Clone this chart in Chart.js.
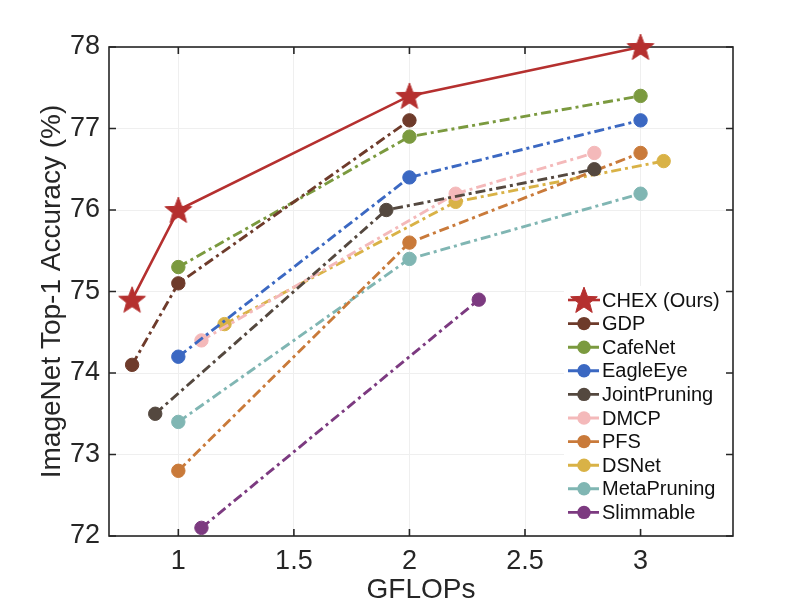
<!DOCTYPE html>
<html><head><meta charset="utf-8">
<script src="https://cdn.jsdelivr.net/npm/chart.js@4"></script>
<style>html,body{margin:0;padding:0;background:#fff}</style>
</head><body>
<canvas id="c" width="811" height="610"></canvas>
<script>
// ---- data ----
const seriesNames = ['CHEX (Ours)','GDP','CafeNet','EagleEye','JointPruning','DMCP','PFS','DSNet','MetaPruning','Slimmable'];
const chexX = [0.8, 1, 2, 3];           const chexY = [74.9, 76.0, 77.4, 78.0];
const gdpX = [0.8, 1, 2];               const gdpY = [74.1, 75.1, 77.1];
const cafeX = [1, 2, 3];                const cafeY = [75.3, 76.9, 77.4];
const eagleX = [1, 2, 3];               const eagleY = [74.2, 76.4, 77.1];
const jointX = [0.9, 1.9, 2.8];         const jointY = [73.5, 76.0, 76.5];
const dmcpX = [1.1, 2.2, 2.8];          const dmcpY = [74.4, 76.2, 76.7];
const pfsX = [1, 2, 3];                 const pfsY = [72.8, 75.6, 76.7];
const dsnetX = [1.2, 2.2, 3.1];         const dsnetY = [74.6, 76.1, 76.6];
const metaX = [1, 2, 3];                const metaY = [73.4, 75.4, 76.2];
const slimX = [1.1, 2.3];               const slimY = [72.1, 74.9];
const xTicks = [1, 1.5, 2, 2.5, 3];
const xTickLabels = ['1', '1.5', '2', '2.5', '3'];
const yTicks = [72, 73, 74, 75, 76, 77, 78];
const yTickLabels = ['72', '73', '74', '75', '76', '77', '78'];
const colors = ['#B5302F','#6E3B2B','#7B9A3F','#3B68C2','#54483F','#F4B9BA','#C97A3A','#D9B246','#80B6B3','#7C3A80'];
const allX = [chexX, gdpX, cafeX, eagleX, jointX, dmcpX, pfsX, dsnetX, metaX, slimX];
const allY = [chexY, gdpY, cafeY, eagleY, jointY, dmcpY, pfsY, dsnetY, metaY, slimY];

// ---- star marker ----
function makeStar(color, R) {
  const s = Math.ceil(R * 2 + 4);
  const cv = document.createElement('canvas');
  cv.width = s; cv.height = s;
  const g = cv.getContext('2d');
  const cx = s / 2, cy = s / 2 + R * 0.08, r = R * 0.42;
  g.beginPath();
  for (let i = 0; i < 10; i++) {
    const rad = i % 2 === 0 ? R : r;
    const a = -Math.PI / 2 + i * Math.PI / 5;
    const px = cx + rad * Math.cos(a), py = cy + rad * Math.sin(a);
    i === 0 ? g.moveTo(px, py) : g.lineTo(px, py);
  }
  g.closePath();
  g.fillStyle = color; g.fill();
  g.lineWidth = 1; g.strokeStyle = color; g.stroke();
  return cv;
}
const starImg = makeStar(colors[0], 14);
const dashDot = [10, 4, 3, 4];

const datasets = seriesNames.map((name, i) => ({
  label: name,
  data: allX[i].map((x, k) => ({ x: x, y: allY[i][k] })),
  borderColor: colors[i],
  backgroundColor: colors[i],
  borderWidth: i === 0 ? 2.6 : 2.9,
  borderDash: i === 0 ? [] : dashDot,
  pointStyle: i === 0 ? starImg : 'circle',
  pointRadius: i === 0 ? 14 : 6.7,
  pointBorderWidth: 1,
  pointHoverRadius: i === 0 ? 14 : 6.7,
  showLine: true,
  tension: 0,
  fill: false,
  clip: false
}));

const INK = '#262626';
const FONT = "'Liberation Sans', Arial, Helvetica, sans-serif";

const framePlugin = {
  id: 'frame',
  beforeDatasetsDraw(chart) {
    const { ctx, chartArea: a, scales: { x, y } } = chart;
    ctx.save();
    ctx.strokeStyle = INK; ctx.lineWidth = 1.6; ctx.setLineDash([]);
    ctx.strokeRect(a.left, a.top, a.right - a.left, a.bottom - a.top);
    const L = 7;
    ctx.beginPath();
    x.ticks.forEach(t => {
      const p = x.getPixelForValue(t.value);
      ctx.moveTo(p, a.bottom); ctx.lineTo(p, a.bottom - L);
      ctx.moveTo(p, a.top); ctx.lineTo(p, a.top + L);
    });
    y.ticks.forEach(t => {
      const p = y.getPixelForValue(t.value);
      ctx.moveTo(a.left, p); ctx.lineTo(a.left + L, p);
      ctx.moveTo(a.right, p); ctx.lineTo(a.right - L, p);
    });
    ctx.stroke();
    ctx.restore();
  }
};

const legendPlugin = {
  id: 'inLegend',
  afterDraw(chart) {
    const { ctx, chartArea: a } = chart;
    const x0 = a.right - 165, y0 = a.bottom - 236, dy = 23.6;
    ctx.save();
    ctx.fillStyle = '#ffffff';
    ctx.fillRect(x0 - 4, y0 - 14, 162, dy * 10 + 6);
    chart.data.datasets.forEach((ds, i) => {
      const yy = y0 + i * dy;
      ctx.strokeStyle = ds.borderColor;
      ctx.lineWidth = ds.borderWidth;
      ctx.setLineDash(ds.borderDash);
      ctx.beginPath(); ctx.moveTo(x0, yy); ctx.lineTo(x0 + 32, yy); ctx.stroke();
      ctx.setLineDash([]);
      if (i === 0) {
        ctx.drawImage(starImg, x0 + 16 - starImg.width / 2, yy - starImg.height / 2);
      } else {
        ctx.fillStyle = ds.backgroundColor;
        ctx.beginPath(); ctx.arc(x0 + 16, yy, 6.7, 0, Math.PI * 2); ctx.fill();
      }
      ctx.fillStyle = '#111111';
      ctx.font = '20px ' + FONT;
      ctx.textBaseline = 'middle';
      ctx.textAlign = 'left';
      ctx.fillText(ds.label, x0 + 34, yy + 1);
    });
    ctx.restore();
  }
};

new Chart(document.getElementById('c'), {
  type: 'scatter',
  data: { datasets: datasets },
  plugins: [framePlugin, legendPlugin],
  options: {
    responsive: false,
    animation: false,
    layout: { padding: { left: 0, top: 47, right: 78, bottom: 0 } },
    plugins: { legend: { display: false }, tooltip: { enabled: false } },
    scales: {
      x: {
        type: 'linear', min: 0.7, max: 3.4,
        afterBuildTicks: s => { s.ticks = xTicks.map(v => ({ value: v })); },
        afterFit: s => { s.height = 74; },
        ticks: {
          callback: (v) => { const k = xTicks.indexOf(v); return k >= 0 ? xTickLabels[k] : ''; },
          color: INK, font: { family: FONT, size: 27 }, padding: 9, maxRotation: 0
        },
        grid: { color: '#EFEFEF', lineWidth: 1, drawTicks: false },
        border: { display: false },
        title: { display: true, text: 'GFLOPs', color: INK, font: { family: FONT, size: 28 }, padding: { top: 0, bottom: 3 } }
      },
      y: {
        type: 'linear', min: 72, max: 78,
        afterBuildTicks: s => { s.ticks = yTicks.map(v => ({ value: v })); },
        afterFit: s => { s.width = 109; },
        ticks: {
          callback: (v) => { const k = yTicks.indexOf(v); return k >= 0 ? yTickLabels[k] : ''; },
          color: INK, font: { family: FONT, size: 27 }, padding: 9
        },
        grid: { color: '#EFEFEF', lineWidth: 1, drawTicks: false },
        border: { display: false },
        title: { display: true, text: 'ImageNet Top-1 Accuracy (%)', color: INK, font: { family: FONT, size: 28 }, padding: { top: 35, bottom: 0 } }
      }
    }
  }
});
</script>
</body></html>
